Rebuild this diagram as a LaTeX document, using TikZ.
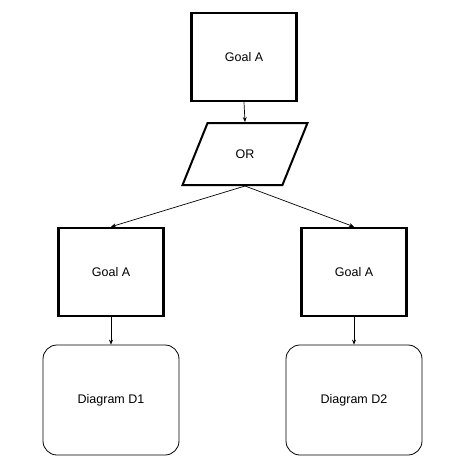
\documentclass[tikz,border=0pt]{standalone}
\usepackage{fontspec}
\setmainfont{Liberation Sans}
\usetikzlibrary{shapes.geometric,arrows.meta}
\begin{document}
\begin{tikzpicture}[x=1pt,y=-1pt,
  goal/.style={draw,line width=2.5pt,minimum width=105pt,minimum height=88pt,font=\fontsize{12.5}{14}\selectfont},
  diag/.style={draw,line width=0.8pt,rounded corners=14pt,minimum width=136pt,minimum height=110pt,font=\fontsize{12.5}{14}\selectfont},
  or/.style={draw,line width=2pt,trapezium,trapezium left angle=68,trapezium right angle=112,minimum width=108pt,minimum height=62pt,inner xsep=0pt,font=\fontsize{12.5}{14}\selectfont},
  arr/.style={-{Stealth[length=5pt,width=4pt]},line width=0.7pt}]
\useasboundingbox (0,0) rectangle (474,474);
\node[goal] (g) at (244,57) {Goal A};
\node[or] (or) at (245,154) {OR};
\node[goal] (l) at (111,272) {Goal A};
\node[goal] (r) at (354,272) {Goal A};
\node[diag] (d1) at (111,400) {Diagram D1};
\node[diag] (d2) at (354,400) {Diagram D2};
\draw[arr] (g.south) -- (or.north);
\draw[arr] (or.south) -- (l.north);
\draw[arr] (or.south) -- (r.north);
\draw[arr] (l.south) -- (d1.north);
\draw[arr] (r.south) -- (d2.north);
\end{tikzpicture}
\end{document}
